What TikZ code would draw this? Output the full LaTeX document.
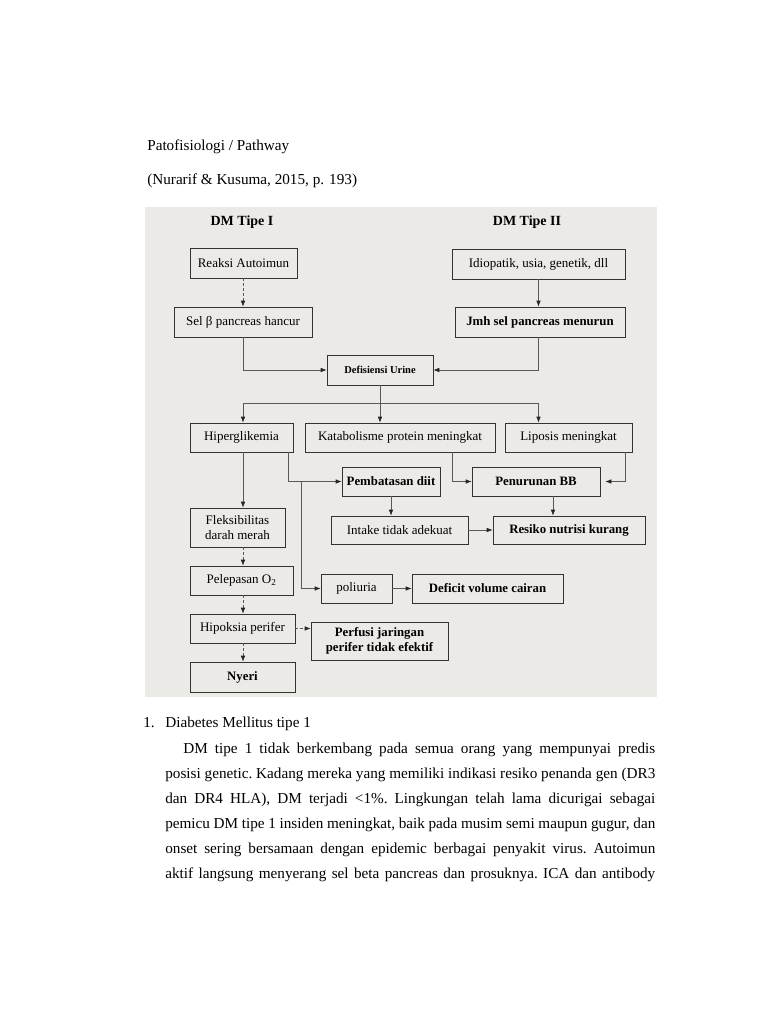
\documentclass[tikz,border=0pt]{standalone}
\usepackage{fontspec}
\setmainfont{Liberation Serif}
\usepackage{xcolor}
\usepackage{tikz}
\usetikzlibrary{arrows.meta}
\definecolor{bgc}{HTML}{ECEAE7}

\begin{document}
\begin{tikzpicture}[x=1pt, y=-1pt, semithick, box/.style ={rectangle, draw = black!80, fill = bgc, text = black, align = center, inner sep = 0pt, font = \fontsize{13}{15}\selectfont}, bx/.style = {box, font = \fontsize{12.8}{15}\selectfont\bfseries}, ln/.style = {draw = black!65}, ar/.style = {ln, -{Latex[length=6pt, width=4.5pt, black!85]}}, txt/.style = {anchor = base west, inner sep = 0pt, font = \fontsize{15.2}{25}\selectfont}]
\fill[white] (0,0) rectangle (768,1024);
\useasboundingbox (0,0) rectangle (768,1024);
% page text
\node[txt] (TT) at (147,151) {Patofisiologi / Pathway};
\node[txt] (RF) at (147,185) {(Nurarif \& Kusuma, 2015, p. 193)};
\node[txt] (N1) at (143,727) {1.};
\node[txt] (DM) at (165,727) {Diabetes Mellitus tipe 1};
\node[txt, text width = 490pt, align = justify] (PR) at (165,753) {{\frenchspacing\hyphenpenalty=10000\parfillskip=0pt\hspace*{18pt}DM tipe 1 tidak berkembang pada semua orang yang mempunyai predis\linebreak posisi genetic. Kadang mereka yang memiliki indikasi resiko penanda gen (DR3\linebreak dan DR4 HLA), DM terjadi <1\%. Lingkungan telah lama dicurigai sebagai\linebreak pemicu DM tipe 1 insiden meningkat, baik pada musim semi maupun gugur, dan\linebreak onset sering bersamaan dengan epidemic berbagai penyakit virus. Autoimun\linebreak aktif langsung menyerang sel beta pancreas dan prosuknya. ICA dan antibody\par}};
% pathway
\fill[bgc] (145,207) rectangle (657,697);
\node[font = \fontsize{14}{16}\selectfont\bfseries] (T1) at (242,222) {DM Tipe I};
\node[font = \fontsize{14}{16}\selectfont\bfseries] (T2) at (527,222) {DM Tipe II};
\node[box, minimum width = 107pt, minimum height = 30pt] (RA) at (243.5,263) {Reaksi Autoimun};
\node[box, minimum width = 173pt, minimum height = 30pt] (IU) at (538.5,264) {Idiopatik, usia, genetik, dll};
\node[box, minimum width = 138pt, minimum height = 30pt] (SB) at (243,322) {Sel β pancreas hancur};
\node[bx, minimum width = 170pt, minimum height = 30pt] (JS) at (540,322) {Jmh sel pancreas menurun};
\node[bx, font = \fontsize{10.5}{12}\selectfont\bfseries, minimum width = 106pt, minimum height = 30pt] (DU) at (380,370) {Defisiensi Urine};
\node[box, minimum width = 103pt, minimum height = 29pt] (HG) at (241.5,437.5) {Hiperglikemia};
\node[box, minimum width = 190pt, minimum height = 29pt] (KP) at (400,437.5) {Katabolisme protein meningkat};
\node[box, minimum width = 127pt, minimum height = 29pt] (LM) at (568.5,437.5) {Liposis meningkat};
\node[bx, minimum width = 98pt, minimum height = 29pt] (PD) at (391,481.5) {Pembatasan diit};
\node[bx, minimum width = 128pt, minimum height = 29pt] (PB) at (536,481.5) {Penurunan BB};
\node[box, minimum width = 95pt, minimum height = 39pt] (FD) at (237.5,527.5) {Fleksibilitas\\darah merah};
\node[box, minimum width = 137pt, minimum height = 28pt] (IT) at (399.5,530) {Intake tidak adekuat};
\node[bx, minimum width = 152pt, minimum height = 28pt] (RN) at (569,530) {Resiko nutrisi kurang};
\node[box, minimum width = 103pt, minimum height = 29pt] (PL) at (241.5,580.5) {Pelepasan O\textsubscript{2}};
\node[box, minimum width = 71pt, minimum height = 29pt] (PO) at (356.5,588.5) {poliuria};
\node[bx, minimum width = 151pt, minimum height = 29pt] (DV) at (487.5,588.5) {Deficit volume cairan};
\node[box, minimum width = 105pt, minimum height = 29pt] (HP) at (242.5,628.5) {Hipoksia perifer};
\node[bx, minimum width = 137pt, minimum height = 38pt] (PJ) at (379.5,641) {Perfusi jaringan\\perifer tidak efektif};
\node[bx, minimum width = 105pt, minimum height = 30pt] (NY) at (242.5,677) {Nyeri};
\coordinate (cl) at (243,0);
\coordinate (sp) at (380,403);
\coordinate (br) at (301,481.5);
\coordinate (pb) at ([xshift=17pt]PB.south);
\draw[ar, densely dashed] (RA.south -| cl) -- (SB.north -| cl);
\draw[ar] (IU.south) -- (JS.north -| IU.south);
\draw[ar] (SB.south -| cl) |- (DU.west);
\draw[ar] (JS.south -| IU.south) |- (DU.east);
\draw[ln] (DU.south) -- (sp);
\draw[ar] (sp) -| (HG.north -| cl);
\draw[ar] (sp) -| (LM.north -| IU.south);
\draw[ar] (sp) -- (KP.north -| sp);
\draw[ar] ([xshift=-5pt]HG.south east) |- (PD.west);
\draw[ar] (br) |- (PO.west);
\draw[ar] ([xshift=52pt]KP.south) |- (PB.west);
\draw[ar, shorten >=5pt] ([xshift=-7pt]LM.south east) |- (PB.east);
\draw[ar] (HG.south -| cl) -- (FD.north -| cl);
\draw[ar, densely dashed] (FD.south -| cl) -- (PL.north -| cl);
\draw[ar, densely dashed] (PL.south -| cl) -- (HP.north -| cl);
\draw[ar, densely dashed] (HP.south -| cl) -- (NY.north -| cl);
\draw[ar, densely dashed] (HP.east) -- (HP.east -| PJ.west);
\draw[ar] (PD.south) -- (IT.north -| PD.south);
\draw[ar] (pb) -- (RN.north -| pb);
\draw[ar] (IT.east) -- (IT.east -| RN.west);
\draw[ar] (PO.east) -- (PO.east -| DV.west);
\end{tikzpicture}
\end{document}
